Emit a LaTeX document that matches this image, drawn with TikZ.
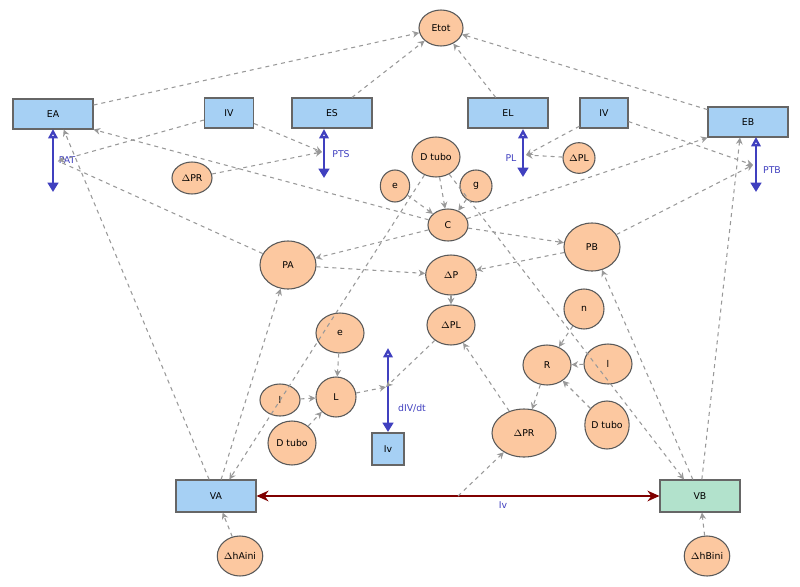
\documentclass[tikz,border=0pt]{standalone}
\usepackage{fontspec}
\setmainfont{DejaVu Sans}
\usetikzlibrary{shapes.geometric,arrows.meta}
\begin{document}
\begin{tikzpicture}[x=0.75pt,y=-0.75pt,
 box/.style={draw=black!60,fill=cyan!30!blue!25!white,fill=blue!30!cyan!35,line width=0.8pt,minimum width=#1,minimum height=22.5pt,inner sep=0,font=\scriptsize},
 box/.default=60pt,
 var/.style={ellipse,draw=black!65,fill=orange!35!white,line width=0.8pt,inner sep=0,font=\scriptsize},
 dep/.style={draw=gray!80,dashed,line width=0.8pt,-{Stealth[length=5pt,width=5pt]}},
 dl/.style={dep,-},
 flow/.style={draw=blue!50!gray,line width=2.2pt,{Triangle[open,fill=white,length=7pt,width=7pt]}-{Triangle[length=7pt,width=8pt]}},
 flab/.style={text=blue!50!gray,font=\scriptsize}]
\useasboundingbox (0,0) rectangle (800,586);
\definecolor{bx}{RGB}{166,208,244}
\definecolor{grn}{RGB}{178,226,204}
\definecolor{org}{RGB}{252,200,160}
\tikzset{box/.append style={fill=bx},var/.append style={fill=org}}
\node[var,minimum width=33pt,minimum height=27pt] (Etot) at (441,28) {Etot};
\node[box] (EA) at (53,114) {EA};
\node[box=37pt] (IV1) at (229,113) {IV};
\node[box] (ES) at (332,113) {ES};
\node[box] (EL) at (508,113) {EL};
\node[box=36pt] (IV2) at (604,113) {IV};
\node[box] (EB) at (748,122) {EB};
\node[box=24pt,minimum height=24pt] (Iv) at (388,449) {Iv};
\node[box,minimum height=24pt] (VA) at (216,496) {VA};
\node[box,minimum height=24pt,fill=grn] (VB) at (700,496) {VB};
% flows
\coordinate (PATt) at (53,129); \coordinate (PATb) at (53,192);
\draw[flow] (PATt) -- (PATb); \node[flab] (PATl) at (67,160) {PAT};
\coordinate (PTSt) at (324,129); \coordinate (PTSb) at (324,178);
\draw[flow] (PTSt) -- (PTSb); \node[flab] (PTSl) at (341,154) {PTS};
\coordinate (PLt) at (523,129); \coordinate (PLb) at (523,177);
\draw[flow] (PLt) -- (PLb); \node[flab] (PLl) at (511,158) {PL};
\coordinate (PTBt) at (756,137); \coordinate (PTBb) at (756,192);
\draw[flow] (PTBt) -- (PTBb); \node[flab] (PTBl) at (772,170) {PTB};
\coordinate (dIt) at (388,348); \coordinate (dIb) at (388,432);
\draw[flow] (dIt) -- (dIb); \node[flab] (dIl) at (412,408) {dIV/dt};
\coordinate (PATc) at (58,161); \coordinate (PTSc) at (322,152);
\coordinate (PLc) at (526,155); \coordinate (PTBc) at (753,165);
\coordinate (dIc) at (386,387);
% variables
\node[var,minimum width=30pt,minimum height=24pt] (dPR1) at (192,178) {$\Delta$PR};
\node[var,minimum width=36pt,minimum height=30pt] (Dt1) at (436,157) {D tubo};
\node[var,minimum width=22pt,minimum height=24pt] (e1) at (395,186) {e};
\node[var,minimum width=24pt,minimum height=24pt] (g) at (476,186) {g};
\node[var,minimum width=30pt,minimum height=24pt] (C) at (448,225) {C};
\node[var,minimum width=24pt,minimum height=23pt] (dPL1) at (579,158) {$\Delta$PL};
\node[var,minimum width=42pt,minimum height=36pt] (PA) at (288,265) {PA};
\node[var,minimum width=42pt,minimum height=36pt] (PB) at (592,247) {PB};
\node[var,minimum width=38pt,minimum height=30pt] (dP) at (451,275) {$\Delta$P};
\node[var,minimum width=36pt,minimum height=30pt] (dPL2) at (451,325) {$\Delta$PL};
\node[var,minimum width=30pt,minimum height=30pt] (n) at (584,309) {n};
\node[var,minimum width=36pt,minimum height=30pt] (R) at (547,365) {R};
\node[var,minimum width=36pt,minimum height=30pt] (l2) at (608,364) {l};
\node[var,minimum width=36pt,minimum height=30pt] (e2) at (340,333) {e};
\node[var,minimum width=30pt,minimum height=30pt] (L) at (336,397) {L};
\node[var,minimum width=30pt,minimum height=24pt] (l1) at (280,400) {l};
\node[var,minimum width=36pt,minimum height=33pt] (Dt2) at (292,443) {D tubo};
\node[var,minimum width=48pt,minimum height=36pt] (dPR2) at (524,433) {$\Delta$PR};
\node[var,minimum width=30pt,minimum height=36pt] (Dt3) at (607,425) {D tubo};
\node[var,minimum width=33pt,minimum height=30pt] (hA) at (240,556) {$\Delta$hAini};
\node[var,minimum width=33pt,minimum height=30pt] (hB) at (707,556) {$\Delta$hBini};
% dependencies
\draw[dep] (EA) -- (Etot); \draw[dep] (ES) -- (Etot); \draw[dep] (EL) -- (Etot); \draw[dep] (EB) -- (Etot);
\draw[dep] (IV1) -- (PATc); \draw[dep] (IV1) -- (PTSc); \draw[dep] (dPR1) -- (PTSc);
\draw[dep] (C) -- (EA.south east); \draw[dl] (PA) -- (PATc);
\draw[dep] (VA) -- ([xshift=8pt]EA.south);
\draw[dep] (IV2) -- (PLc); \draw[dep] (dPL1) -- (PLc);
\draw[dep] (IV2) -- (PTBc); \draw[dep] (PB) -- (PTBc);
\draw[dep] (C) -- (EB.south west); \draw[dep] (VB) -- ([xshift=-6pt]EB.south);
\draw[dep] (Dt1) -- (C); \draw[dep] (e1) -- (C); \draw[dep] (g) -- (C);
\draw[dep] (C) -- (PA); \draw[dep] (C) -- (PB);
\draw[dep] (PA) -- (dP); \draw[dep] (PB) -- (dP); \draw[dep] (dP) -- (dPL2);
\draw[dep] (dPL2) -- (dIc); \draw[dep] (L) -- (dIc);
\draw[dep] (e2) -- (L); \draw[dep] (l1) -- (L); \draw[dep] (Dt2) -- (L);
\draw[dep] (VA) -- (PA); \draw[dep] (Dt1) -- ([xshift=10pt]VA.north);
\draw[dep] (Dt1) -- ([xshift=-12pt]VB.north); \draw[dep] (VB) -- (PB);
\draw[dep] (n) -- (R); \draw[dep] (l2) -- (R); \draw[dep] (Dt3) -- (R);
\draw[dep] (R) -- (dPR2); \draw[dep] (dPR2) -- (dPL2);
\draw[dep] (hA) -- (VA); \draw[dep] (hB) -- (VB);
% Iv flow
\draw[draw=red!50!black,line width=2pt,{Stealth[length=9pt,width=8pt]}-{Stealth[length=9pt,width=8pt]}] (VA) -- coordinate[pos=0.5] (Ivm) (VB);
\node[flab] (Ivl) at (503,505) {Iv};
\draw[dep] (Ivm) -- (dPR2);
\end{tikzpicture}
\end{document}
